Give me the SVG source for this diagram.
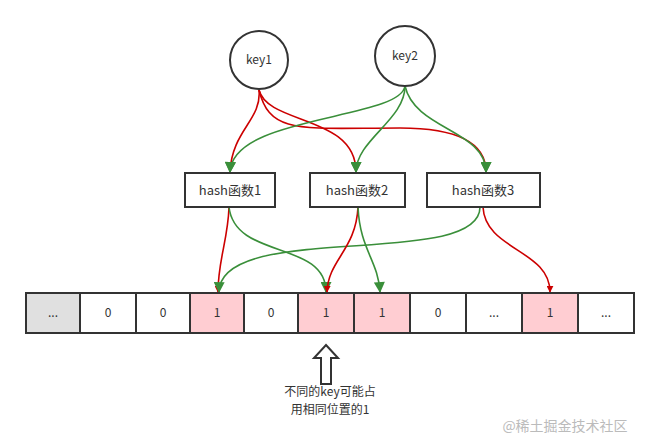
<svg xmlns="http://www.w3.org/2000/svg" width="659" height="448" viewBox="0 0 659 448">
<style>
text{font-family:"Noto Sans CJK SC","Liberation Sans",sans-serif;font-size:12px;fill:#333;text-anchor:middle}
.b{font-size:13px}
.n{fill:#fff;stroke:#333;stroke-width:2}
.c{stroke:#333;stroke-width:2}
.r{fill:none;stroke:#c00;stroke-width:1.6}
.g{fill:none;stroke:#3a8f3a;stroke-width:1.6}
</style>
<defs>
<marker id="mr" viewBox="0 0 10 10" refX="9" refY="5" markerWidth="7" markerHeight="7" orient="auto" markerUnits="userSpaceOnUse"><path d="M0,0L10,5L0,10z" fill="#c00"/></marker>
<marker id="mg" viewBox="0 0 10 10" refX="9" refY="5" markerWidth="12" markerHeight="11" orient="auto" markerUnits="userSpaceOnUse"><path d="M0,0L10,5L0,10z" fill="#3a8f3a"/></marker>
</defs>
<rect width="659" height="448" fill="#fff"/>
<g id="connectors">
<path class="r" d="M259,90 C262,120 232,130 230,172" marker-end="url(#mg)"/>
<path class="r" d="M259,90 C268,125 356,115 356,172" marker-end="url(#mg)"/>
<path class="r" d="M259,90 C270,135 300,128 400,128 C470,128 486,150 486,172" marker-end="url(#mg)"/>
<path class="g" d="M405,86 C400,120 232,115 230,172" marker-end="url(#mg)"/>
<path class="g" d="M405,86 C405,120 356,140 356,172" marker-end="url(#mg)"/>
<path class="g" d="M405,86 C415,130 486,130 486,172" marker-end="url(#mg)"/>
<path class="r" d="M229,207 C228,240 218,260 218,292" marker-end="url(#mr)"/>
<path class="g" d="M480,207 C480,270 220,220 219,292" marker-end="url(#mg)"/>
<path class="g" d="M229,207 C235,260 326,240 326,292" marker-end="url(#mg)"/>
<path class="r" d="M358,207 C356,250 328,260 327,292" marker-end="url(#mr)"/>
<path class="g" d="M358,207 C360,250 378,260 380,292" marker-end="url(#mg)"/>
<path class="r" d="M483,207 C485,250 550,250 550,292" marker-end="url(#mr)"/>
</g>
<g id="key1"><circle class="n" cx="259" cy="60" r="29"/><text x="259" y="64">key1</text></g>
<g id="key2"><circle class="n" cx="405" cy="56" r="30"/><text x="405" y="60">key2</text></g>
<g id="hash1"><rect class="n" x="185" y="173" width="90" height="34"/><text class="b" x="230" y="195">hash函数1</text></g>
<g id="hash2"><rect class="n" x="310" y="173" width="95" height="34"/><text class="b" x="357" y="195">hash函数2</text></g>
<g id="hash3"><rect class="n" x="427" y="173" width="113" height="34"/><text class="b" x="483" y="195">hash函数3</text></g>
<g id="cells">
<rect class="c" x="26" y="293" width="54" height="40" fill="#e0e0e0"/><text x="53" y="317">...</text>
<rect class="c" x="80" y="293" width="56" height="40" fill="#fff"/><text x="108" y="317">0</text>
<rect class="c" x="136" y="293" width="54" height="40" fill="#fff"/><text x="163" y="317">0</text>
<rect class="c" x="190" y="293" width="54" height="40" fill="#ffcdd2"/><text x="217" y="317">1</text>
<rect class="c" x="244" y="293" width="54" height="40" fill="#fff"/><text x="271" y="317">0</text>
<rect class="c" x="298" y="293" width="56" height="40" fill="#ffcdd2"/><text x="326" y="317">1</text>
<rect class="c" x="354" y="293" width="56" height="40" fill="#ffcdd2"/><text x="382" y="317">1</text>
<rect class="c" x="410" y="293" width="56" height="40" fill="#fff"/><text x="438" y="317">0</text>
<rect class="c" x="466" y="293" width="56" height="40" fill="#fff"/><text x="494" y="317">...</text>
<rect class="c" x="522" y="293" width="56" height="40" fill="#ffcdd2"/><text x="550" y="317">1</text>
<rect class="c" x="578" y="293" width="56" height="40" fill="#fff"/><text x="606" y="317">...</text>
</g>
<g id="pointer"><path d="M326,345 L338,358 L331,358 L331,384 L321,384 L321,358 L314,358 Z" fill="#fff" stroke="#333" stroke-width="2"/></g>
<g id="note"><text x="330" y="396">不同的key可能占</text><text x="330" y="414">用相同位置的1</text></g>
<text x="565" y="431" style="font-size:14px;fill:#bbb">@稀土掘金技术社区</text>
</svg>
